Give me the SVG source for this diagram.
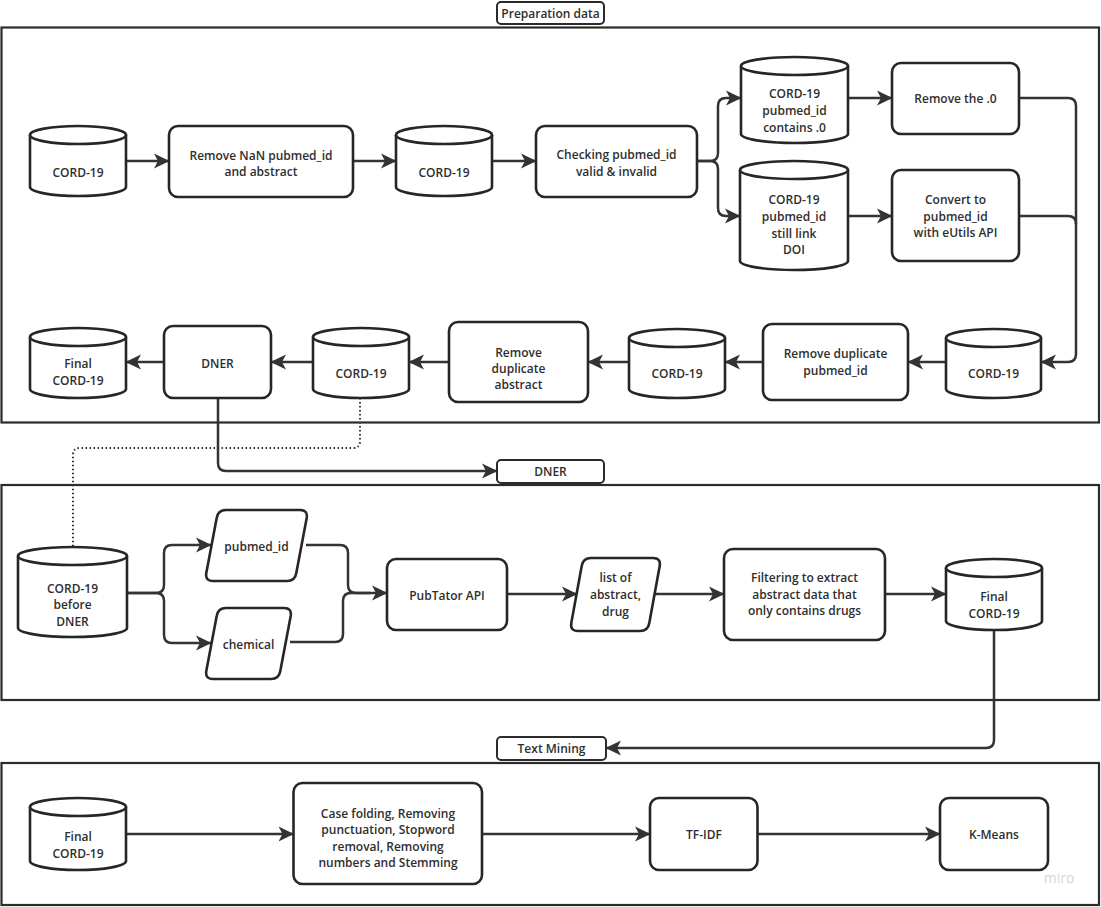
<svg xmlns="http://www.w3.org/2000/svg" width="1101" height="907" viewBox="0 0 1101 907">
<defs>
<style>
.frame{fill:none;stroke:#2b2b2b;stroke-width:2.2}
.tag{fill:#fff;stroke:#2b2b2b;stroke-width:2}
.n{fill:#fff;stroke:#262626;stroke-width:2.6;stroke-linejoin:round}
.c{fill:none;stroke:#333;stroke-width:2.5;stroke-linejoin:round}
.a{marker-end:url(#arr)}
.dot{fill:none;stroke:#333;stroke-width:2;stroke-dasharray:1.5 2.5}
text{font-family:"Open Sans","Noto Sans","Liberation Sans",sans-serif;font-weight:600;font-size:12px;fill:#2e2e2e;text-anchor:middle;dominant-baseline:central}
.wm{font-weight:400;font-size:14px;fill:#d4d4de}
</style>
<marker id="arr" viewBox="0 0 16 16" markerUnits="userSpaceOnUse" markerWidth="16" markerHeight="16" refX="15" refY="8" orient="auto">
<path d="M0,0.5 L15.5,8 L0,15.5 L4,8 Z" fill="#333"/>
</marker>
</defs>

<g id="frames">
<rect class="frame" x="1.5" y="27.5" width="1097.5" height="395"/>
<rect class="frame" x="1.5" y="485" width="1097.5" height="215"/>
<rect class="frame" x="1.5" y="763" width="1097.5" height="142"/>
</g>

<g id="connectors">
<path class="c a" d="M126,161 H169"/>
<path class="c a" d="M353,161 H396"/>
<path class="c a" d="M492,161 H536"/>
<path class="c a" d="M697,161 H710 Q718,161 718,153 V106 Q718,98 726,98 H741"/>
<path class="c a" d="M697,161 H710 Q718,161 718,169 V208 Q718,216 726,216 H740"/>
<path class="c a" d="M848,98 H892"/>
<path class="c a" d="M848,216 H892"/>
<path class="c a" d="M1019,98 H1068 Q1076,98 1076,106 V354 Q1076,362 1068,362 H1041"/>
<path class="c" d="M1019,216 H1068 Q1076,216 1076,224"/>
<path class="c a" d="M946,362 H908"/>
<path class="c a" d="M763,362 H725"/>
<path class="c a" d="M629,362 H588"/>
<path class="c a" d="M449,362 H409"/>
<path class="c a" d="M313,362 H271"/>
<path class="c a" d="M164,362 H126"/>
<path class="c a" d="M218,398 V463 Q218,471 226,471 H497"/>
<path class="dot" d="M360,398 V441 Q360,448 353,448 H80 Q73,448 73,455 V547"/>
<path class="c a" d="M127,593 H156 Q164,593 164,585 V553 Q164,545 172,545 H211"/>
<path class="c a" d="M127,593 H156 Q164,593 164,601 V635 Q164,643 172,643 H211"/>
<path class="c a" d="M306,545 H340 Q348,545 348,553 V585 Q348,593 356,593 H387"/>
<path class="c" d="M290,642 H335 Q343,642 343,634 V601 Q343,593 351,593 H370"/>
<path class="c a" d="M507,594 H577"/>
<path class="c a" d="M655,594 H724"/>
<path class="c a" d="M885,594 H946"/>
<path class="c a" d="M994,630 V740 Q994,748 986,748 H606"/>
<path class="c a" d="M126,834 H293.5"/>
<path class="c a" d="M482,834 H650"/>
<path class="c a" d="M757.5,834 H940"/>
</g>

<g id="tag-preparation"><rect class="tag" x="497" y="2" width="107" height="22" rx="4"/><text x="550.5" y="13">Preparation data</text></g>
<g id="tag-dner"><rect class="tag" x="497" y="460" width="107" height="23" rx="4"/><text x="550.5" y="471.5">DNER</text></g>
<g id="tag-textmining"><rect class="tag" x="497" y="737" width="109" height="23" rx="4"/><text x="551.5" y="748.5">Text Mining</text></g>

<g id="cyl-a"><path class="n" d="M30,135 A48,9 0 0 1 126,135 V187 A48,9 0 0 1 30,187 Z"/><path class="n" fill="none" d="M30,135 A48,9 0 0 0 126,135"/><text x="78" y="172">CORD-19</text></g>
<g id="remove-nan"><rect class="n" x="169" y="126" width="184" height="71" rx="9"/><text x="261" y="155">Remove NaN pubmed_id</text><text x="261" y="171">and abstract</text></g>
<g id="cyl-b"><path class="n" d="M396,135 A48,9 0 0 1 492,135 V187 A48,9 0 0 1 396,187 Z"/><path class="n" fill="none" d="M396,135 A48,9 0 0 0 492,135"/><text x="444" y="172">CORD-19</text></g>
<g id="checking"><rect class="n" x="536" y="126" width="161" height="71" rx="9"/><text x="616.5" y="154">Checking pubmed_id</text><text x="616.5" y="171">valid &amp; invalid</text></g>
<g id="cyl-c"><path class="n" d="M741,66 A53.5,9 0 0 1 848,66 V134 A53.5,9 0 0 1 741,134 Z"/><path class="n" fill="none" d="M741,66 A53.5,9 0 0 0 848,66"/><text x="794.5" y="93">CORD-19</text><text x="794.5" y="110">pubmed_id</text><text x="794.5" y="127">contains .0</text></g>
<g id="cyl-d"><path class="n" d="M740,170 A54,9 0 0 1 848,170 V261 A54,9 0 0 1 740,261 Z"/><path class="n" fill="none" d="M740,170 A54,9 0 0 0 848,170"/><text x="794" y="199">CORD-19</text><text x="794" y="216">pubmed_id</text><text x="794" y="233">still link</text><text x="794" y="249">DOI</text></g>
<g id="remove-0"><rect class="n" x="892" y="63" width="127" height="71" rx="9"/><text x="955.5" y="98">Remove the .0</text></g>
<g id="convert"><rect class="n" x="892" y="170" width="127" height="91" rx="9"/><text x="955.5" y="199">Convert to</text><text x="955.5" y="216">pubmed_id</text><text x="955.5" y="232">with eUtils API</text></g>
<g id="cyl-e"><path class="n" d="M946,338 A47.5,9 0 0 1 1041,338 V389 A47.5,9 0 0 1 946,389 Z"/><path class="n" fill="none" d="M946,338 A47.5,9 0 0 0 1041,338"/><text x="993.5" y="373">CORD-19</text></g>
<g id="remove-dup-pubmed"><rect class="n" x="763" y="324" width="145" height="76" rx="9"/><text x="835.5" y="353">Remove duplicate</text><text x="835.5" y="370">pubmed_id</text></g>
<g id="cyl-f"><path class="n" d="M629,338 A48,9 0 0 1 725,338 V389 A48,9 0 0 1 629,389 Z"/><path class="n" fill="none" d="M629,338 A48,9 0 0 0 725,338"/><text x="677" y="373">CORD-19</text></g>
<g id="remove-dup-abstract"><rect class="n" x="449" y="322" width="139" height="80" rx="9"/><text x="518.5" y="352">Remove</text><text x="518.5" y="368">duplicate</text><text x="518.5" y="384">abstract</text></g>
<g id="cyl-g"><path class="n" d="M313,337 A48,9 0 0 1 409,337 V389 A48,9 0 0 1 313,389 Z"/><path class="n" fill="none" d="M313,337 A48,9 0 0 0 409,337"/><text x="361" y="373">CORD-19</text></g>
<g id="dner"><rect class="n" x="164" y="326" width="107" height="72" rx="9"/><text x="217.5" y="363">DNER</text></g>
<g id="cyl-h"><path class="n" d="M30,337 A48,9 0 0 1 126,337 V389 A48,9 0 0 1 30,389 Z"/><path class="n" fill="none" d="M30,337 A48,9 0 0 0 126,337"/><text x="78" y="363">Final</text><text x="78" y="380">CORD-19</text></g>

<g id="cyl-i"><path class="n" d="M18,556 A54.5,9 0 0 1 127,556 V628 A54.5,9 0 0 1 18,628 Z"/><path class="n" fill="none" d="M18,556 A54.5,9 0 0 0 127,556"/><text x="72.5" y="588">CORD-19</text><text x="72.5" y="604">before</text><text x="72.5" y="621">DNER</text></g>
<g id="pubmed-id"><path class="n" d="M226,510 H300 Q308,510 306.7,518 L296.3,573 Q295,581 287,581 H213 Q205,581 206.3,573 L216.7,518 Q218,510 226,510 Z"/><text x="256.5" y="546">pubmed_id</text></g>
<g id="chemical"><path class="n" d="M226,608 H284 Q292,608 290.7,616 L280.3,671 Q279,679 271,679 H213 Q205,679 206.3,671 L216.7,616 Q218,608 226,608 Z"/><text x="248.5" y="644">chemical</text></g>
<g id="pubtator"><rect class="n" x="387" y="559" width="120" height="71" rx="9"/><text x="447" y="595">PubTator API</text></g>
<g id="list"><path class="n" d="M591,558 H653 Q661,558 659.7,566 L649.3,623 Q648,631 640,631 H578 Q570,631 571.3,623 L581.7,566 Q583,558 591,558 Z"/><text x="615.5" y="577">list of</text><text x="615.5" y="594">abstract,</text><text x="615.5" y="611">drug</text></g>
<g id="filtering"><rect class="n" x="724" y="549" width="161" height="91" rx="9"/><text x="804.5" y="577">Filtering to extract</text><text x="804.5" y="594">abstract data that</text><text x="804.5" y="610">only contains drugs</text></g>
<g id="cyl-j"><path class="n" d="M946,568 A48,9 0 0 1 1042,568 V621 A48,9 0 0 1 946,621 Z"/><path class="n" fill="none" d="M946,568 A48,9 0 0 0 1042,568"/><text x="994" y="596">Final</text><text x="994" y="613">CORD-19</text></g>

<g id="cyl-k"><path class="n" d="M30,807 A48,9 0 0 1 126,807 V861 A48,9 0 0 1 30,861 Z"/><path class="n" fill="none" d="M30,807 A48,9 0 0 0 126,807"/><text x="78" y="836">Final</text><text x="78" y="853">CORD-19</text></g>
<g id="case-folding"><rect class="n" x="293.5" y="783" width="188.5" height="101" rx="9"/><text x="388" y="813">Case folding, Removing</text><text x="388" y="829">punctuation, Stopword</text><text x="388" y="846">removal, Removing</text><text x="388" y="862">numbers and Stemming</text></g>
<g id="tfidf"><rect class="n" x="650" y="798" width="107.5" height="72" rx="9"/><text x="704" y="834">TF-IDF</text></g>
<g id="kmeans"><rect class="n" x="940" y="798" width="108" height="72" rx="9"/><text x="994" y="834">K-Means</text></g>

<text class="wm" x="1059" y="877">miro</text>
</svg>
